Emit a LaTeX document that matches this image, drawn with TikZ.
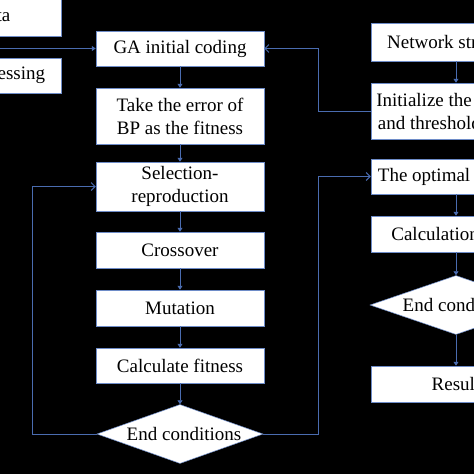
\documentclass[tikz,border=0pt]{standalone}
\usepackage{fontspec}
\setmainfont{Liberation Serif}
\usetikzlibrary{shapes.geometric,arrows.meta}
\definecolor{lineblue}{RGB}{74,108,176}
\definecolor{boxedge}{RGB}{110,140,200}
\begin{document}
\begin{tikzpicture}[x=1pt,y=-1pt,
  box/.style={draw=boxedge, line width=0.5pt, fill=white, inner sep=0pt,
    align=center, text=black, font=\fontsize{19}{23}\selectfont},
  lbox/.style={box, minimum width=168pt},
  rbox/.style={box, minimum width=170pt},
  dia/.style={diamond, draw=boxedge, line width=0.5pt, fill=white, inner sep=0pt,
    text=black, font=\fontsize{19}{23}\selectfont},
  arr/.style={draw=lineblue, line width=0.9pt, -{Triangle[length=4pt,width=5pt]}},
  loop/.style={draw=lineblue, line width=0.9pt, -{Straight Barb[length=4pt,width=8pt]}}]
\useasboundingbox (0,0) rectangle (474,474);
\fill[black] (0,0) rectangle (474,474);
% left column (cut off)
\node[box, minimum width=178pt, minimum height=38pt] (data) at (-28,17) {Input data};
\node[box, minimum width=178pt, minimum height=35pt] (prep) at (-28,75.5) {Data preprocessing};
% GA column
\node[lbox, minimum height=35pt] (ga) at (180,48.5) {GA initial coding};
\node[lbox, minimum height=56pt] (err) at (180,116) {Take the error of\\BP as the fitness};
\node[lbox, minimum height=49pt] (sel) at (180,186.5) {Selection-\\reproduction};
\node[lbox, minimum height=36pt] (cross) at (180,250) {Crossover};
\node[lbox, minimum height=36pt] (mut) at (180,308) {Mutation};
\node[lbox, minimum height=35pt] (fit) at (180,365.5) {Calculate fitness};
\node[dia, minimum width=166pt, minimum height=59pt, aspect=2.8] (end1) at (180,434) {\hspace{8pt}End conditions};
% BP column
\node[rbox, minimum height=38pt] (net) at (456,42) {Network structure};
\node[rbox, minimum height=56pt] (init) at (456,111) {Initialize the weights\\and threshold values};
\node[rbox, minimum height=35pt] (opt) at (456,176.5) {The optimal weights};
\node[rbox, minimum height=36pt] (cerr) at (456,234) {Calculation error};
\node[dia, minimum width=172pt, minimum height=59pt, aspect=2.9] (end2) at (456,305) {\hspace{8pt}End conditions};
\node[rbox, minimum height=36pt] (res) at (456,384) {Result};
% coordinates
\coordinate (in) at (-10,48.5);
\coordinate (l1) at (32,434);
\coordinate (l2) at (32,186.5);
\coordinate (r1) at (318,434);
\coordinate (r2) at (318,176.5);
\coordinate (t1) at (318,111);
\coordinate (t2) at (318,48.5);
% connectors
\draw[arr] (in) -- (ga.west);
\draw[arr] (ga) -- (err);
\draw[arr] (err) -- (sel);
\draw[arr] (sel) -- (cross);
\draw[arr] (cross) -- (mut);
\draw[arr] (mut) -- (fit);
\draw[arr] (fit) -- (end1);
\draw[loop] (end1.west) -- (l1) -- (l2) -- (sel.west);
\draw[loop] (end1.east) -- (r1) -- (r2) -- (opt.west);
\draw[loop] (init.west) -- (t1) -- (t2) -- (ga.east);
\draw[arr] (net) -- (init);
\draw[arr] (opt) -- (cerr);
\draw[arr] (cerr) -- (end2);
\draw[arr] (end2) -- (res);
\end{tikzpicture}
\end{document}
